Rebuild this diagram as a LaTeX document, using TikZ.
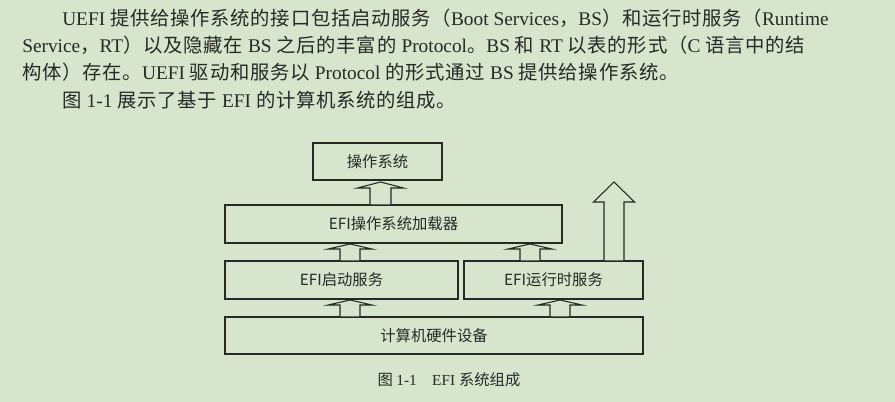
\documentclass[tikz,border=0pt]{standalone}
\usepackage{fontspec}
\setmainfont{Liberation Serif}
\newfontfamily\cjk{Noto Sans CJK SC}
\newfontfamily\cjkwide[LetterSpace=4]{Noto Sans CJK SC}
\definecolor{pagebg}{RGB}{214,229,203}
\definecolor{ink}{RGB}{40,40,40}
\tikzset{
  layer/.style={draw=ink,line width=0.8pt,fill=pagebg,inner sep=0pt,font=\cjk\fontsize{11.5}{13}\selectfont,text=ink},
  hollow/.style={draw=ink,line width=0.8pt,fill=pagebg},
  para/.style={anchor=west,inner sep=0pt,font=\fontsize{14.5}{16}\selectfont,text=ink}
}
% block arrow: centre x, tip y, bottom y, shaft half width, head half width, head height
\newcommand\blockup[6]{%
  \draw[hollow] (#1-#4,#3) -- (#1-#4,#2+#6) -- (#1-#5,#2+#6) -- (#1,#2) -- (#1+#5,#2+#6) -- (#1+#4,#2+#6) -- (#1+#4,#3) -- cycle;}
\begin{document}
\begin{tikzpicture}[x=0.75pt,y=-0.75pt]
\fill[pagebg] (0,0) rectangle (895,402);
\useasboundingbox (0,0) rectangle (895,402);

% text above
\node[para] (l1) at (62,18) {UEFI {\cjkwide 提供给操作系统的接口包括启动服务（}Boot Services{\cjkwide ，}BS{\cjkwide ）和运行时服务（}Runtime};
\node[para] (l2) at (22,45) {Service{\cjkwide ，}RT{\cjkwide ）以及隐藏在 }BS {\cjkwide 之后的丰富的 }Protocol{\cjkwide 。}BS {\cjkwide 和 }RT {\cjkwide 以表的形式（}C {\cjkwide 语言中的结}};
\node[para] (l3) at (22,72) {{\cjkwide 构体）存在。}UEFI {\cjkwide 驱动和服务以 }Protocol {\cjkwide 的形式通过 }BS {\cjkwide 提供给操作系统。}};
\node[para] (l4) at (62,100) {{\cjkwide 图 }1-1 {\cjkwide 展示了基于 }EFI {\cjkwide 的计算机系统的组成。}};

% layers
\node[layer,minimum width=96.75pt,minimum height=27.75pt] (os) at (377.5,161.5) {操作系统};
\node[layer,minimum width=252.75pt,minimum height=28.5pt] (loader) at (393.5,224) {EFI操作系统加载器};
\node[layer,minimum width=174.75pt,minimum height=28.5pt] (boot) at (341.5,280) {EFI启动服务};
\node[layer,minimum width=134.25pt,minimum height=28.5pt] (rt) at (553.5,280) {EFI运行时服务};
\node[layer,minimum width=313.5pt,minimum height=27.75pt] (hw) at (434,335.5) {计算机硬件设备};

% arrows
\blockup{380.5}{182}{205}{10.5}{23}{6}
\blockup{350}{244}{261}{10}{22}{5}
\blockup{530}{244}{261}{10}{22}{5}
\blockup{350}{300}{317}{10}{22}{5}
\blockup{560}{300}{317}{10}{22}{5}
\blockup{614}{182}{261}{10}{20.5}{20}

% caption
\node[para,anchor=center,font=\fontsize{11.5}{13}\selectfont] (cap) at (449,380) {{\cjk 图 }1-1\quad EFI {\cjk 系统组成}};
\end{tikzpicture}
\end{document}
